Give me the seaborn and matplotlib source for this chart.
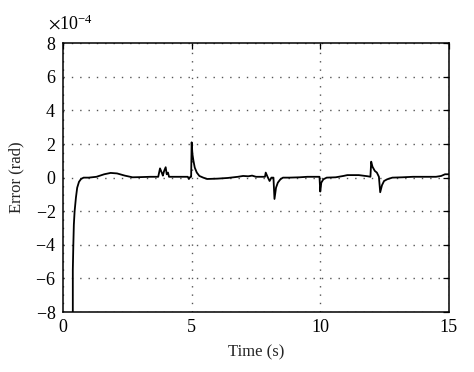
import numpy as np
import pandas as pd
import seaborn as sns
import matplotlib.pyplot as plt
from matplotlib.ticker import ScalarFormatter

# time (s) and tracking error (x 1e-4 rad)
time = [0.38, 0.38, 0.40, 0.42, 0.45, 0.50, 0.55, 0.62, 0.70, 0.80,
        1.00, 1.30, 1.60, 1.85, 2.10, 2.40, 2.70, 3.00, 3.40, 3.70,
        3.77, 3.85, 3.88, 3.93, 3.99, 4.03, 4.08, 4.12, 4.30, 4.60,
        4.85, 4.89, 4.95, 4.98, 5.00, 5.03, 5.07, 5.12, 5.20, 5.30,
        5.45, 5.60, 6.00, 6.40, 6.80, 7.00, 7.20, 7.35, 7.50, 7.70,
        7.85, 7.88, 7.95, 8.03, 8.10, 8.18, 8.22, 8.28, 8.35, 8.45,
        8.55, 8.80, 9.20, 9.50, 9.97, 10.00, 10.04, 10.12, 10.25, 10.60,
        10.90, 11.05, 11.50, 11.85, 11.95, 11.98, 12.03, 12.12, 12.20, 12.28,
        12.33, 12.40, 12.48, 12.60, 12.80, 13.20, 13.60, 14.00, 14.50, 14.70,
        14.85, 15.00]
error_e4 = [-8.0, -5.5, -4.0, -2.8, -2.0, -1.2, -0.6, -0.25, -0.08, 0.0,
            0.0, 0.05, 0.2, 0.28, 0.25, 0.12, 0.02, 0.03, 0.05, 0.05,
            0.55, 0.25, 0.12, 0.4, 0.62, 0.2, 0.3, 0.05, 0.05, 0.05,
            0.05, -0.08, 0.05, 0.05, 2.1, 1.4, 1.0, 0.6, 0.3, 0.1,
            0.0, -0.08, -0.06, -0.02, 0.05, 0.1, 0.08, 0.12, 0.05, 0.05,
            0.05, 0.3, 0.05, -0.2, 0.0, 0.0, -1.27, -0.6, -0.3, -0.1,
            0.0, 0.0, 0.02, 0.05, 0.05, -0.83, -0.3, -0.1, 0.0, 0.02,
            0.1, 0.15, 0.15, 0.08, 0.05, 0.95, 0.65, 0.4, 0.3, 0.05,
            -0.87, -0.45, -0.2, -0.1, 0.0, 0.02, 0.05, 0.05, 0.05, 0.1,
            0.2, 0.2]

df = pd.DataFrame({"Time": time, "Error": np.array(error_e4) * 1e-4})

sns.set_style("white")
plt.rcParams["font.family"] = ["Liberation Serif", "DejaVu Serif"]
plt.rcParams["mathtext.fontset"] = "stix"

fig = plt.figure(figsize=(4.74, 3.72), dpi=100)
ax = fig.add_axes([0.133, 0.161, 0.814, 0.723])

sns.lineplot(data=df, x="Time", y="Error", color="black", linewidth=1.3,
             sort=False, estimator=None, ax=ax)

ax.set_xlim(0, 15)
ax.set_ylim(-8e-4, 8e-4)
ax.set_xticks([0, 5, 10, 15])
ax.set_yticks(np.arange(-8, 9, 2) * 1e-4)

fmt = ScalarFormatter(useMathText=True)
fmt.set_powerlimits((0, 0))
ax.yaxis.set_major_formatter(fmt)
ax.yaxis.OFFSETTEXTPAD = 10
off = ax.yaxis.get_offset_text()
off.set_fontsize(13)
off.set_x(-0.04)

ax.grid(True, color="#555555", linestyle=(0, (1, 5)), linewidth=1.0)
ax.tick_params(direction="in", length=4, width=0.9, top=True, right=True,
               labelsize=13, colors="black", pad=5)
for s in ax.spines.values():
    s.set_color("black")
    s.set_linewidth(1.1)

ax.set_xlabel("Time (s)", fontsize=12, labelpad=6)
ax.set_ylabel("Error (rad)", fontsize=12, labelpad=8)

fig.savefig("out.png", dpi=100)
